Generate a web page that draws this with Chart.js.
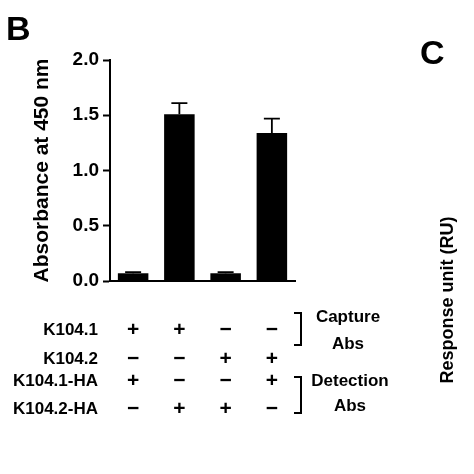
<!DOCTYPE html><html><head><script src="https://cdn.jsdelivr.net/npm/chart.js@4"></script>
<style>body{margin:0;background:#fff}#w{width:474px;height:474px}</style></head><body><div id="w"><canvas id="c"></canvas></div>
<script>
const categories=["1","2","3","4"];
const values=[0.07,1.51,0.07,1.34];
const errors=[0.01,0.10,0.01,0.13];
const yTicks=[0,0.5,1.0,1.5,2.0];
const rowLabels=["K104.1","K104.2","K104.1-HA","K104.2-HA"];
const rowSigns=[["+","+","−","−"],["−","−","+","+"],["+","−","−","+"],["−","+","+","−"]];
const groupLabels=[["Capture","Abs"],["Detection","Abs"]];
const F="Arial, 'Liberation Sans', sans-serif";
const extras={id:'extras',afterDraw(ch){
 const c=ch.ctx,x=ch.scales.x,y=ch.scales.y;
 c.save();c.fillStyle='#000';c.strokeStyle='#000';
 c.lineWidth=1.8;
 values.forEach((v,i)=>{const px=x.getPixelForValue(i),top=y.getPixelForValue(v+errors[i]),b=y.getPixelForValue(v);
  c.beginPath();c.moveTo(px,b);c.lineTo(px,top);c.moveTo(px-8,top);c.lineTo(px+8,top);c.stroke();});
 c.font="bold 34px "+F;c.textBaseline='alphabetic';c.textAlign='left';
 c.fillText("B",6,40);c.fillText("C",420,64);
 c.font="bold 18px "+F;
 c.save();c.translate(448,300);c.rotate(-Math.PI/2);c.textAlign='center';c.textBaseline='middle';c.fillText("Response unit (RU)",0,0);c.restore();
 const rows=[330,359,381,409];
 c.textBaseline='middle';
 rowLabels.forEach((l,r)=>{c.textAlign='right';c.font="bold 17px "+F;c.fillText(l,98,rows[r]);
  rowSigns[r].forEach((s,i)=>{c.textAlign='center';c.font="bold 21px "+F;c.fillText(s,x.getPixelForValue(i),rows[r]);});});
 c.lineWidth=2;
 c.font="bold 17px "+F;
 [[313,345],[377,413]].forEach((b,g)=>{c.beginPath();c.moveTo(294,b[0]);c.lineTo(301,b[0]);c.lineTo(301,b[1]);c.lineTo(294,b[1]);c.stroke();
  c.textAlign='center';const cx=g?350:348;c.fillText(groupLabels[g][0],cx,b[0]+4);c.fillText(groupLabels[g][1],cx,b[1]-(g?7:1));});
 c.restore();}};
new Chart(document.getElementById('c'),{type:'bar',data:{labels:categories,datasets:[{data:values,backgroundColor:'#000',borderColor:'#000',barPercentage:0.66,categoryPercentage:1}]},
options:{responsive:true,maintainAspectRatio:false,animation:false,events:[],
layout:{padding:{left:30,top:60,right:179,bottom:193}},
plugins:{legend:{display:false},tooltip:{enabled:false}},
scales:{x:{ticks:{display:false},grid:{display:false,drawTicks:false},border:{color:'#000',width:2}},
y:{min:0,max:2,afterFit(s){s.width=80;},afterBuildTicks(a){a.ticks=yTicks.map(v=>({value:v}));},ticks:{color:'#000',font:{family:F,size:19,weight:'bold'},callback:v=>v.toFixed(1),padding:4},
grid:{display:true,drawOnChartArea:false,color:'#000',tickLength:7,tickWidth:2},border:{color:'#000',width:2},
title:{display:true,text:'Absorbance at 450 nm',color:'#000',padding:{top:0,bottom:0},font:{family:F,size:21,weight:'bold'}}}}},plugins:[extras]});
</script></body></html>
